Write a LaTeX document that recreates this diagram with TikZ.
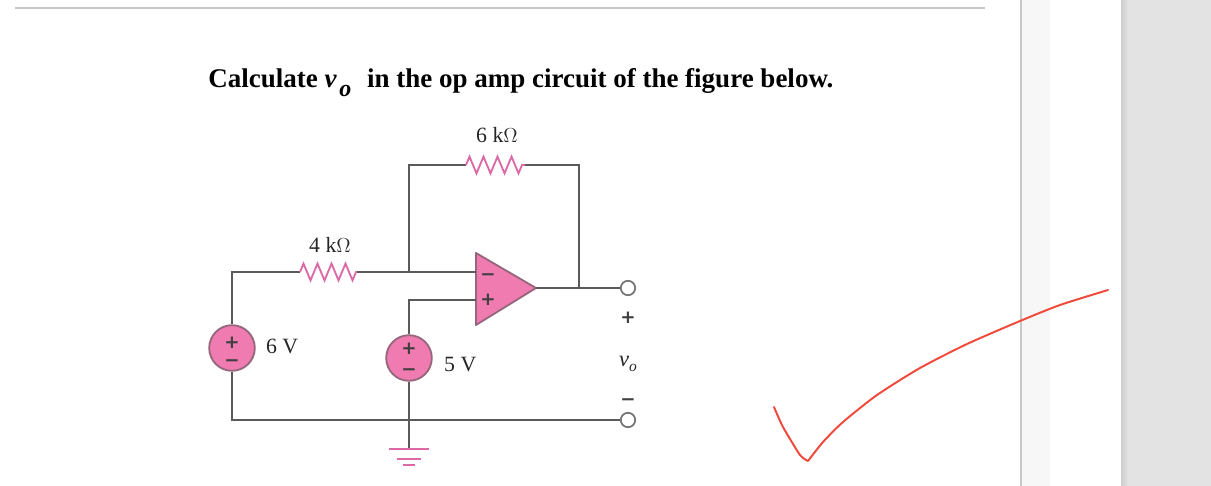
\documentclass[tikz,border=0pt]{standalone}
\usepackage{fontspec}
\setmainfont{Liberation Serif}
\newfontfamily\polarfont{DejaVu Sans}
\usetikzlibrary{positioning}
\usetikzlibrary{decorations.pathmorphing}
\definecolor{wirecol}{HTML}{5A5A5A}
\definecolor{pinkfill}{HTML}{EF7BB0}
\definecolor{pinkline}{HTML}{DC68A6}
\definecolor{pagerule}{HTML}{C8C8C8}
\definecolor{checkred}{HTML}{F04A3C}
\tikzset{
	wire/.style={draw=wirecol, line width=1.5pt},
	resistor/.style={draw=pinkline, line width=1.3pt, decorate, decoration={zigzag, segment length=0.35cm, amplitude=0.21cm}},
	source/.style={circle, draw=wirecol!60!pinkfill, line width=1.3pt, fill=pinkfill, minimum size=1.14cm, inner sep=0pt},
	terminal/.style={circle, draw=wirecol!85, line width=1.2pt, fill=white, minimum size=0.36cm, inner sep=0pt},
	value/.style={font=\fontsize{15.5}{17}\selectfont, text=black!85, inner sep=0pt},
	polar/.style={font=\polarfont\fontsize{13}{14}\selectfont\bfseries, text=black!75, inner sep=0pt},
	groundbar/.style={draw=pinkline, line width=1.3pt}
}

\begin{document}
\begin{tikzpicture}[x=0.025cm, y=-0.025cm]
	\useasboundingbox (0,0) rectangle (1211,486);
	
	% Page around the question
	\fill [white] (0,0) rectangle (1211,486);
	\fill [black!3] (1022,0) rectangle (1050,486);
	\fill [black!11] (1121,0) rectangle (1211,486);
	\shade [left color=black!19, right color=black!11] (1121,0) rectangle (1128,486);
	\draw [draw=pagerule, line width=0.8pt] (1021,0) -- (1021,486);
	\draw [draw=pagerule, line width=0.8pt] (15,8) -- (985,8);
	
	% Question
	\node [anchor=base west, inner sep=0pt, font=\fontsize{19.2}{22}\selectfont\bfseries] at (208,88) (title) {Calculate \textit{v}\hspace{0.1em}\raisebox{-0.33em}{\fontsize{17}{20}\selectfont\textit{o}}\hspace{0.33em} in the op amp circuit of the figure below.};
	
	% Sources and terminals
	\node [source] at (232,348) (src6) {};
	\node [source] at (409,358) (src5) {};
	\node [terminal] at (628,288) (outtop) {};
	\node [terminal] at (628,420) (outbot) {};
	
	% Corners and junctions
	\coordinate (leftcorner) at (232,272);
	\coordinate (r4in) at (300,272);
	\coordinate (r4out) at (357,272);
	\coordinate (minusjoin) at (409,272);
	\coordinate (fbleft) at (409,165);
	\coordinate (r6in) at (466,165);
	\coordinate (r6out) at (525,165);
	\coordinate (fbright) at (579,165);
	\coordinate (outjoin) at (579,288);
	\coordinate (pluscorner) at (409,300);
	\coordinate (botleft) at (232,420);
	\coordinate (botjoin) at (409,420);
	\coordinate (gnd) at (409,449);
	
	% Op amp
	\coordinate (oatop) at (476,253);
	\coordinate (oabot) at (476,325);
	\coordinate (oatip) at (536,288);
	\coordinate (oaminus) at (476,272);
	\coordinate (oaplus) at (476,300);
	\filldraw [fill=pinkfill, draw=wirecol!60!pinkfill, line width=1.3pt, line join=round] (oatop) -- (oatip) -- (oabot) -- cycle;
	
	% Labels
	\node [value] at (497,135) (lab6k) {6 k$\Omega$};
	\node [value] at (330,245) (lab4k) {4 k$\Omega$};
	\node [value, right=0.25cm of src6, yshift=0.05cm] (lab6v) {6 V};
	\node [value, right=0.28cm of src5, yshift=-0.17cm] (lab5v) {5 V};
	\node [polar] at (232,343) (src6p) {+};
	\node [polar] at (232,363) (src6m) {−};
	\node [polar] at (409,349) (src5p) {+};
	\node [polar] at (409,372) (src5m) {−};
	\node [polar] at (488,277) (oam) {−};
	\node [polar] at (488,300) (oap) {+};
	\node [polar] at (628,318) (vop) {+};
	\node [value, font=\fontsize{16}{17}\selectfont\itshape] at (628,364) (vo) {v\raisebox{-0.25em}{\fontsize{11}{12}\selectfont o}};
	\node [polar] at (628,402) (vom) {−};
	
	% Connections
	\draw [wire] (src6) -- (leftcorner) -- (r4in);
	\draw [wire] (r4out) -- (oaminus);
	\draw [wire] (minusjoin) -- (fbleft) -- (r6in);
	\draw [wire] (r6out) -- (fbright) -- (outjoin);
	\draw [wire] (oatip) -- (outtop);
	\draw [wire] (src5) -- (pluscorner) -- (oaplus);
	\draw [wire] (src6) -- (botleft) -- (outbot);
	\draw [wire] (src5) -- (gnd);
	\draw [resistor] (r4in) -- (r4out);
	\draw [resistor] (r6in) -- (r6out);
	
	% Ground
	\draw [groundbar] (389,449) -- (429,449);
	\draw [groundbar] (397,459) -- (421,459);
	\draw [groundbar] (403,465) -- (415,465);
	
	% Check mark
	\draw [draw=checkred, line width=1.4pt, line cap=round, line join=round] plot [smooth, tension=0.4] coordinates {(774,407) (783,427) (800,455) (808,461)} -- plot [smooth, tension=0.4] coordinates {(808,461) (823,442) (843,422) (877,395) (920,368) (967,344) (1020,321) (1060,305) (1108,290)};
\end{tikzpicture}
\end{document}
